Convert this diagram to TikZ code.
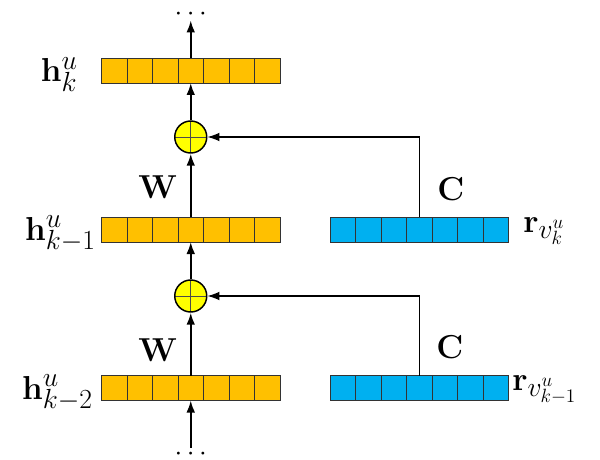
\documentclass[tikz,border=0pt]{standalone}
\usetikzlibrary{arrows.meta,calc}
\definecolor{barorange}{HTML}{FFC000}
\definecolor{barblue}{HTML}{00B0F0}
\definecolor{sumyellow}{HTML}{FFFF00}
\begin{document}
\begin{tikzpicture}[x=0.75pt,y=-0.75pt,
  cellbar/.style={draw=black!80, line width=0.6pt, minimum width=133.9pt, minimum height=18.75pt, inner sep=0pt, outer sep=0pt,
    path picture={\foreach \i in {1,...,6}{\draw[black!80,line width=0.6pt] ($(path picture bounding box.south west)!\i/7!(path picture bounding box.south east)$) -- ($(path picture bounding box.north west)!\i/7!(path picture bounding box.north east)$);}}},
  hbar/.style={cellbar, fill=barorange},
  rbar/.style={cellbar, fill=barblue},
  sumnode/.style={circle, draw=black, line width=1.1pt, fill=sumyellow, minimum size=24pt, inner sep=0pt,
    path picture={\draw[black!70,line width=0.5pt] (path picture bounding box.north) -- (path picture bounding box.south) (path picture bounding box.west) -- (path picture bounding box.east);}},
  mainarrow/.style={-{Latex[length=9pt,width=6.5pt]}, line width=1.4pt},
  sidearrow/.style={-{Latex[length=9pt,width=6.5pt]}, line width=0.8pt},
  lbl/.style={font=\fontsize{23}{28}\selectfont, inner sep=0pt},
  biglbl/.style={font=\fontsize{29}{34}\selectfont, inner sep=0pt},
  dotsnode/.style={font=\fontsize{20}{20}\selectfont, inner sep=0pt}
]
\useasboundingbox (0,0) rectangle (600,460);
\node[hbar] (h2) at (190.75,388) {};
\node[hbar] (h1) at (190.75,229.5) {};
\node[hbar] (h0) at (190.75,70.5) {};
\node[rbar] (r2) at (419.5,388) {};
\node[rbar] (r1) at (419.5,229.5) {};
\node[sumnode] (s2) at (190.75,296) {};
\node[sumnode] (s1) at (190.75,137) {};
\node[dotsnode] (dtop) at (190.75,14) {$\cdots$};
\node[dotsnode] (dbot) at (190.75,454) {$\cdots$};

\draw[mainarrow] (dbot) -- (h2);
\draw[mainarrow] (h2) -- (s2);
\draw[mainarrow] (s2) -- (h1);
\draw[mainarrow] (h1) -- (s1);
\draw[mainarrow] (s1) -- (h0);
\draw[mainarrow] (h0) -- (dtop);
\draw[sidearrow] (r2.north) |- (s2);
\draw[sidearrow] (r1.north) |- (s1);

\node[biglbl, anchor=base east] (lh0) at (78,82) {$\mathbf{h}^u_k$};
\node[biglbl, anchor=base east] (lh1) at (96,240) {$\mathbf{h}^u_{k-1}$};
\node[biglbl, anchor=base east] (lh2) at (93,399) {$\mathbf{h}^u_{k-2}$};
\node[lbl, anchor=base west] (lw1) at (138,198) {$\mathbf{W}$};
\node[lbl, anchor=base west] (lw2) at (138,361) {$\mathbf{W}$};
\node[lbl, anchor=base west] (lc1) at (437,200) {$\mathbf{C}$};
\node[lbl, anchor=base west] (lc2) at (436,358) {$\mathbf{C}$};
\node[biglbl, anchor=base west] (lr1) at (523,232) {$\mathbf{r}_{v^u_k}$};
\node[biglbl, anchor=base west] (lr2) at (512,390) {$\mathbf{r}_{v^u_{k-1}}$};
\end{tikzpicture}
\end{document}
